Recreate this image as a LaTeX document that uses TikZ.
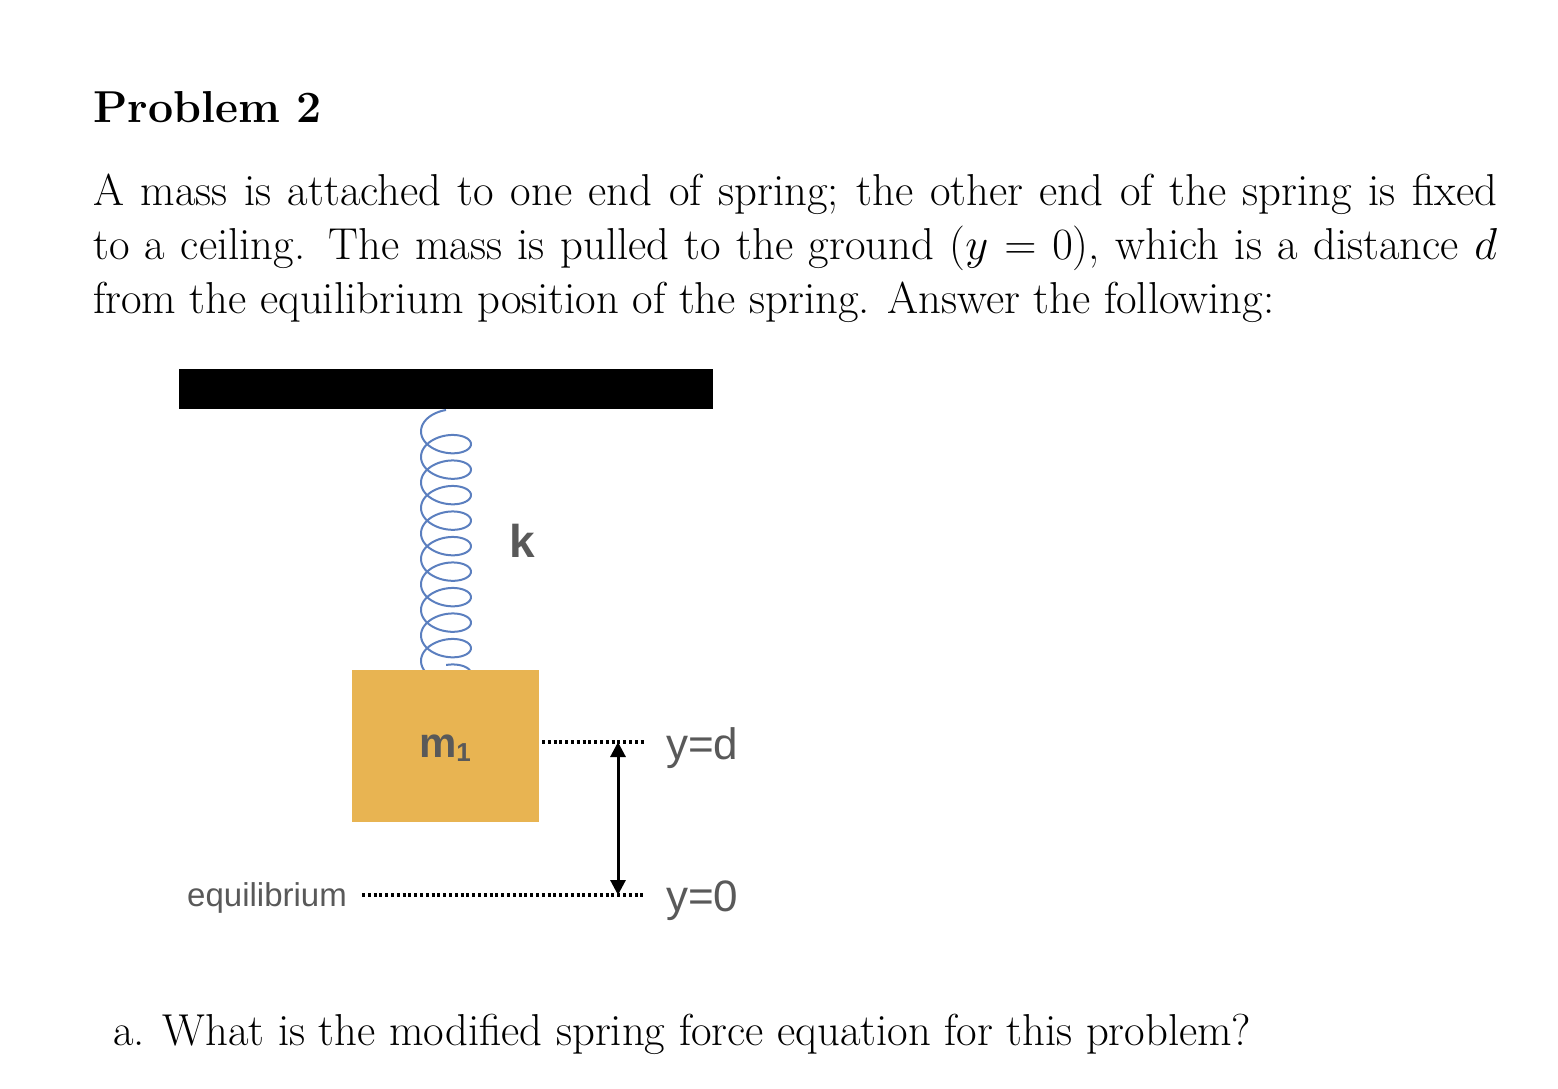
\documentclass[tikz,border=0pt]{standalone}
\usepackage{fix-cm}
\usepackage{fontspec}
\newfontfamily\diagfont{Liberation Sans}
\DeclareMathSizes{44.7}{44.7}{31}{22}
\usetikzlibrary{arrows.meta}
\definecolor{txtgray}{HTML}{595959}
\definecolor{massfill}{HTML}{E8B452}
\definecolor{springc}{HTML}{5B7FBF}
\tikzset{
  body/.style={anchor=base west,inner sep=0,font=\fontsize{44.7}{54}\selectfont},
  lbl/.style={text=txtgray,inner sep=0,font=\diagfont\fontsize{44}{50}\selectfont},
  dots/.style={line width=3.2pt,dash pattern=on 3pt off 2.8pt}
}
\begin{document}
\begin{tikzpicture}[x=1pt,y=-1pt]
\useasboundingbox (0,0) rectangle (1558,1088);
\node[body] (title) at (93,122) {\bfseries Problem 2};
\node[body] (l1) at (93,205) {\makebox[1404pt][s]{A mass is attached to one end of spring; the other end of the spring is fixed}};
\node[body] (l2) at (93,259) {\makebox[1404pt][s]{to a ceiling. The mass is pulled to the ground ($y=0$), which is a distance $d$}};
\node[body] (l3) at (93,313) {from the equilibrium position of the spring. Answer the following:};
\node[body] (qa) at (113,1045) {a. What is the modified spring force equation for this problem?};
\fill (179,369) rectangle (713,409);
\draw[springc,line width=2pt] plot[domain=0:10,samples=600,smooth,variable=\t]
  ({446-25*sin(\t*360)},{410+25.5*\t+15*(1-cos(\t*360))});
\node[draw=none,fill=massfill,minimum width=187pt,minimum height=152pt,inner sep=0] (m) at (445.5,746) {};
\node[lbl,font=\diagfont\bfseries\fontsize{42}{48}\selectfont] (mt) at (445,748) {m\raisebox{-0.1em}{\fontsize{26}{30}\selectfont 1}};
\node[lbl,font=\diagfont\bfseries\fontsize{46}{50}\selectfont] (k) at (522,541) {k};
\coordinate (dT1) at (542,742);
\coordinate (dT2) at (646,742);
\coordinate (dB1) at (362,895);
\coordinate (dB2) at (646,895);
\draw[dots] (dT1) -- (dT2);
\draw[dots] (dB1) -- (dB2);
\coordinate (aT) at (618,742);
\coordinate (aB) at (618,895);
\draw[line width=3pt,{Triangle[length=15pt,width=15pt]}-{Triangle[length=15pt,width=15pt]}] (aT) -- (aB);
\node[lbl,anchor=west] (yd) at (666,748) {y=d};
\node[lbl,anchor=west] (y0) at (666,901) {y=0};
\node[lbl,anchor=east,font=\diagfont\fontsize{33}{38}\selectfont] (eq) at (347,898) {equilibrium};
\end{tikzpicture}
\end{document}
